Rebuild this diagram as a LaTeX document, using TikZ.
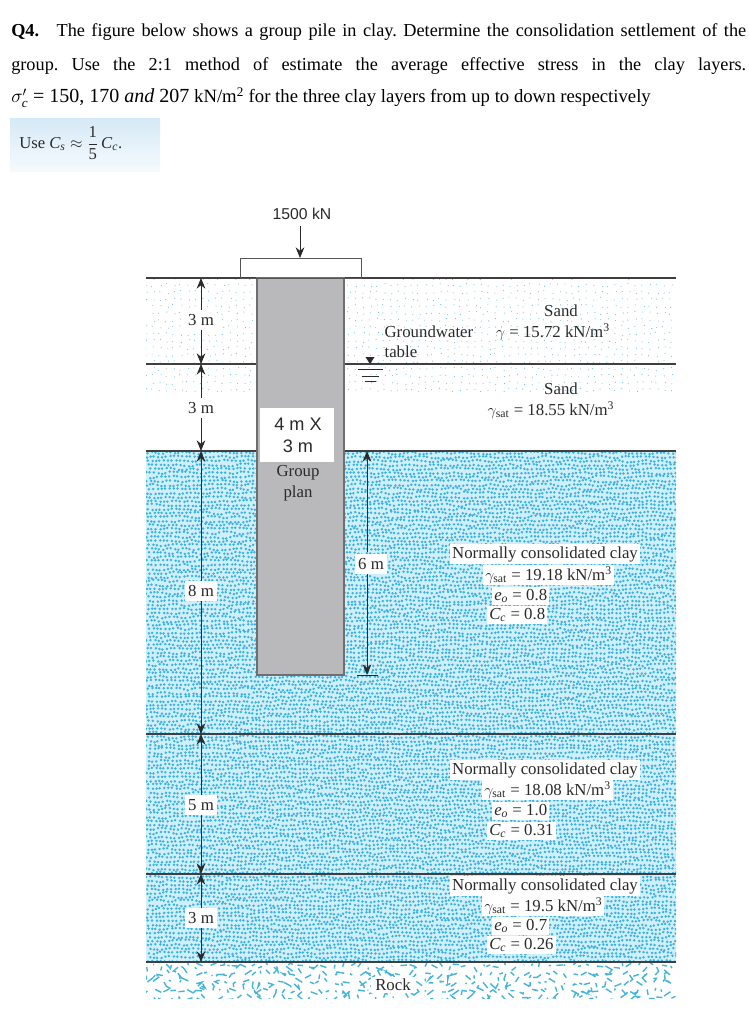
\documentclass[tikz,border=0pt]{standalone}
\usepackage{fontspec}
\setmainfont{Liberation Serif}
\newfontfamily\labsans{Liberation Sans}
\usetikzlibrary{arrows.meta}
\definecolor{inkc}{HTML}{2A2A2A}
\definecolor{claybg}{HTML}{CFF0FA}
\definecolor{claydot}{HTML}{3DB1E0}
\definecolor{sanddot}{HTML}{6FBFD8}
\definecolor{rockc}{HTML}{45B4DA}
\definecolor{pilec}{HTML}{B9B9BB}
\definecolor{pileedge}{HTML}{6E6E6E}
\definecolor{tipa}{HTML}{D6E9F7}
\definecolor{tipb}{HTML}{F5FAFD}
\newcount\rnd \rnd=12345
\newcount\spx \newcount\spy \newcount\spxe \newcount\spye
\newdimen\ptx \newdimen\pty \newdimen\ptxb \newdimen\ptyb
\def\nextrnd{\global\rnd=\numexpr\rnd*171-((\rnd*171-15134)/30269)*30269\relax}
\def\speckle#1#2#3#4#5#6#7#8{%
  \spy=\numexpr#2*49152\relax
  \spye=\numexpr#4*49152\relax
  \loop\ifnum\spy<\spye
    {\spx=\numexpr#1*49152\relax
     \spxe=\numexpr#3*49152\relax
     \loop\ifnum\spx<\spxe
       \nextrnd
       \ptx=\numexpr\spx+\rnd*(#6*4915)/30269-(#6*2457)\relax sp
       \nextrnd
       \pty=\numexpr-\spy-\rnd*(#6*4915)/30269+(#6*2457)\relax sp
       #7%
       \advance\spx by \numexpr#5*4915\relax
     \repeat
     #8}%
    \advance\spy by \numexpr#5*4915\relax
  \repeat}
\def\sanddotcmd{\pgfpathcircle{\pgfqpoint{\ptx}{\pty}}{0.4pt}}
\def\rockcmd{%
  \nextrnd\ptxb=\numexpr\ptx+\rnd*688128/30269-344064\relax sp
  \nextrnd\ptyb=\numexpr\pty+\rnd*491520/30269-245760\relax sp
  \pgfpathmoveto{\pgfqpoint{\ptx}{\pty}}%
  \pgfpathlineto{\pgfqpoint{\ptxb}{\ptyb}}%
  \nextrnd\ifnum\rnd<9000
    \nextrnd\ptx=\numexpr\ptxb+\rnd*491520/30269-245760\relax sp
    \nextrnd\pty=\numexpr\ptyb+\rnd*491520/30269-245760\relax sp
    \pgfpathlineto{\pgfqpoint{\ptx}{\pty}}%
  \fi}
% clay dots: each row is one wiggling polyline stroked with a near-zero dash and round caps
\def\D#1{{0.05pt}{#1pt}}
\edef\dashA{\D{2.6}\D{3.4}\D{2.3}\D{3.1}\D{3.7}\D{2.5}\D{2.9}\D{3.5}\D{2.4}\D{3.2}\D{2.8}\D{3.6}}
\edef\dashB{\D{3.3}\D{2.4}\D{3.6}\D{2.7}\D{2.2}\D{3.4}\D{3.0}\D{2.6}\D{3.8}\D{2.5}\D{3.1}\D{2.9}}
\edef\dashC{\D{2.9}\D{2.3}\D{3.2}\D{3.7}\D{2.6}\D{2.4}\D{3.5}\D{3.0}\D{2.7}\D{3.6}\D{2.3}\D{3.3}}
\def\clayrows#1#2#3#4{%
  \spy=\numexpr#2*49152\relax
  \spye=\numexpr#4*49152\relax
  \loop\ifnum\spy<\spye
    {\nextrnd\ptxb=\numexpr\rnd*655360/30269\relax sp
     \nextrnd\ifcase\numexpr\rnd/10090\relax
        \expandafter\pgfsetdash\expandafter{\dashA}{\ptxb}%
     \or\expandafter\pgfsetdash\expandafter{\dashB}{\ptxb}%
     \else\expandafter\pgfsetdash\expandafter{\dashC}{\ptxb}%
     \fi
     \spx=\numexpr#1*49152\relax
     \spxe=\numexpr#3*49152\relax
     \nextrnd\pty=\numexpr-\spy+\rnd*98304/30269-49152\relax sp
     \pgfpathmoveto{\pgfqpoint{\spx sp}{\pty}}%
     \loop\ifnum\spx<\spxe
       \advance\spx by \numexpr294912+\rnd*5\relax
       \nextrnd\pty=\numexpr-\spy+\rnd*147456/30269-73728\relax sp
       \pgfpathlineto{\pgfqpoint{\spx sp}{\pty}}%
     \repeat
     \pgfusepath{stroke}}%
    \advance\spy by 196608
  \repeat}
\tikzset{
  headline/.style={anchor=base west,inner sep=0pt,font=\fontsize{13.7}{16}\selectfont\frenchspacing,text=black},
  lab/.style={inner sep=1pt,yshift=-0.75pt,font=\fontsize{12.6}{14}\selectfont,text=inkc},
  whitelab/.style={lab,fill=white,inner sep=1.5pt},
  eqlab/.style={whitelab,anchor=west},
  dimlab/.style={whitelab,inner ysep=3pt,inner xsep=2.5pt},
  sanslab/.style={inner sep=0pt,font=\labsans\fontsize{11.8}{14}\selectfont,text=inkc},
  planlab/.style={inner sep=0pt,font=\labsans\fontsize{13.6}{16}\selectfont,text=inkc},
  layerline/.style={draw=inkc!90,line width=0.9pt},
  capline/.style={draw=inkc!80,line width=0.75pt},
  dimline/.style={draw=inkc,line width=0.7pt,-{Stealth[length=8pt,width=6.5pt]}},
  pileshape/.style={fill=pilec,draw=pileedge,line width=1.4pt},
}
\begin{document}
\begin{tikzpicture}[x=0.75pt,y=-0.75pt]
\path[use as bounding box,fill=white] (0,0) rectangle (749,1024);

% question text
\node[headline] (q1) at (11,37) {\makebox[551.2pt][s]{\textbf{Q4.}\hspace{0.6em} The figure below shows a group pile in clay. Determine the consolidation settlement of the}};
\node[headline] (q2) at (11,70) {\makebox[551.2pt][s]{group. Use the 2:1 method of estimate the average effective stress in the clay layers.}};
\node[headline,font=\fontsize{14.05}{16}\selectfont\frenchspacing] (q3) at (11,103) {$\sigma'_{\mathit{c}}$ {\fontsize{15}{16}\selectfont = 150, 170 \textit{and} 207} kN/m\textsuperscript{2} for the three clay layers from up to down respectively};
\shade[top color=tipa,bottom color=tipb] (10,118) rectangle (160,171);
\node[anchor=west,inner sep=0pt,font=\fontsize{12.5}{14}\selectfont,text=inkc] (usecs) at (19,143) {Use $\mathit{C}_{\mathit{s}}\approx{\displaystyle\frac{\mathrm{1}}{\mathrm{5}}}\,\mathit{C}_{\mathit{c}}$.};

% soil textures
\fill[claybg] (146,451) rectangle (676,962);
\begin{scope}
  \clip (146,451) rectangle (676,962);
  \pgfsetstrokecolor{claydot}
  \pgfsetlinewidth{2pt}
  \pgfsetroundcap
  \clayrows{146}{453}{680}{964}
\end{scope}
\begin{scope}
  \clip (146,278) rectangle (676,396);
  \pgfsetfillcolor{sanddot}
  \speckle{146}{278}{678}{396}{70}{35}{\sanddotcmd}{\pgfusepath{fill}}
\end{scope}
\begin{scope}
  \clip (146,963) rectangle (676,998);
  \pgfsetstrokecolor{rockc}
  \pgfsetlinewidth{1.05pt}
  \speckle{146}{966}{680}{1000}{82}{30}{\rockcmd}{\pgfusepath{stroke}}
\end{scope}

% layer boundaries
\coordinate (gl) at (146,278); \coordinate (gr) at (676,278);
\coordinate (wl) at (146,364); \coordinate (wr) at (676,364);
\coordinate (cl) at (146,451); \coordinate (cr) at (676,451);
\coordinate (ml) at (146,734); \coordinate (mr) at (676,734);
\coordinate (nl) at (146,874); \coordinate (nr) at (676,874);
\coordinate (rl) at (146,962); \coordinate (rr) at (676,962);
\draw[layerline] (gl) -- (gr);
\draw[layerline] (wl) -- (wr);
\draw[layerline] (cl) -- (cr);
\draw[layerline] (ml) -- (mr);
\draw[layerline] (nl) -- (nr);
\draw[layerline] (rl) -- (rr);

% pile, cap, load
\draw[pileshape] (257,278) rectangle (344,675);
\draw[capline] (240,278) rectangle (361,258);
\coordinate (captop) at (300,258);
\node[sanslab] (load) at (302,214) {1500 kN};
\draw[dimline] (300,226) -- (captop);
\node[fill=white,minimum width=55.5pt,minimum height=40.5pt,inner sep=0pt] (planbox) at (297,435) {};
\node[planlab] (p1) at (298,424) {4 m X};
\node[planlab] (p2) at (298,446) {3 m};
\node[lab] (p3) at (298,472) {Group};
\node[lab] (p4) at (298,492) {plan};

% left dimensions
\foreach \nm/\ya/\yb/\yl/\txt in {a/278/364/319/3 m, b/364/451/407/3 m, c/451/734/590/8 m, d/734/874/804/5 m, e/874/962/917/3 m}{
  \coordinate (\nm top) at (201,\ya);
  \coordinate (\nm bot) at (201,\yb);
  \node[dimlab] (\nm lab) at (201,\yl) {\txt};
  \draw[dimline] (\nm lab) -- (\nm top);
  \draw[dimline] (\nm lab) -- (\nm bot);
}

% pile embedment dimension
\coordinate (ftop) at (367,451);
\coordinate (fbot) at (367,675);
\coordinate (ftl) at (357,675);
\coordinate (ftr) at (378,675);
\draw[inkc,line width=0.75pt] (ftl) -- (ftr);
\node[dimlab] (flab) at (371,563) {6 m};
\draw[dimline] (367,552) -- (ftop);
\draw[dimline] (367,574) -- (fbot);

% water table symbol
\fill[inkc] (370,364) -- (365.5,357) -- (374.5,357) -- cycle;
\draw[inkc,line width=0.6pt] (358,369) -- (383,369);
\draw[inkc,line width=0.6pt] (362,376) -- (379,376);
\draw[inkc,line width=0.6pt] (365,381) -- (376,381);
\node[lab,anchor=west] (gw1) at (383,331) {Groundwater};
\node[lab,anchor=west] (gw2) at (383,351) {table};

% sand labels
\node[lab] (s1) at (561,310) {Sand};
\node[lab] (s1g) at (553,331) {$\gamma$ = 15.72 kN/m\textsuperscript{3}};
\node[lab] (s2) at (561,388) {Sand};
\node[lab] (s2g) at (551,409) {$\gamma_{\mathrm{sat}}$ = 18.55 kN/m\textsuperscript{3}};

% clay labels
\node[whitelab] (c1) at (545,553) {Normally consolidated clay};
\node[eqlab] (c1g) at (483,574) {$\gamma_{\mathrm{sat}}$ = 19.18 kN/m\textsuperscript{3}};
\node[eqlab] (c1e) at (492,595) {$\mathit{e}_{\mathit{o}}$ = 0.8};
\node[eqlab] (c1c) at (487,614) {$\mathit{C}_{\mathit{c}}$ = 0.8};

\node[whitelab] (c2) at (545,769) {Normally consolidated clay};
\node[eqlab] (c2g) at (482,789) {$\gamma_{\mathrm{sat}}$ = 18.08 kN/m\textsuperscript{3}};
\node[eqlab] (c2e) at (492,810) {$\mathit{e}_{\mathit{o}}$ = 1.0};
\node[eqlab] (c2c) at (487,830) {$\mathit{C}_{\mathit{c}}$ = 0.31};

\node[whitelab] (c3) at (545,885) {Normally consolidated clay};
\node[eqlab] (c3g) at (482,905) {$\gamma_{\mathrm{sat}}$ = 19.5 kN/m\textsuperscript{3}};
\node[eqlab] (c3e) at (492,925) {$\mathit{e}_{\mathit{o}}$ = 0.7};
\node[eqlab] (c3c) at (487,944) {$\mathit{C}_{\mathit{c}}$ = 0.26};

\node[whitelab,inner xsep=3pt] (rock) at (393,984) {Rock};
\end{tikzpicture}
\end{document}
